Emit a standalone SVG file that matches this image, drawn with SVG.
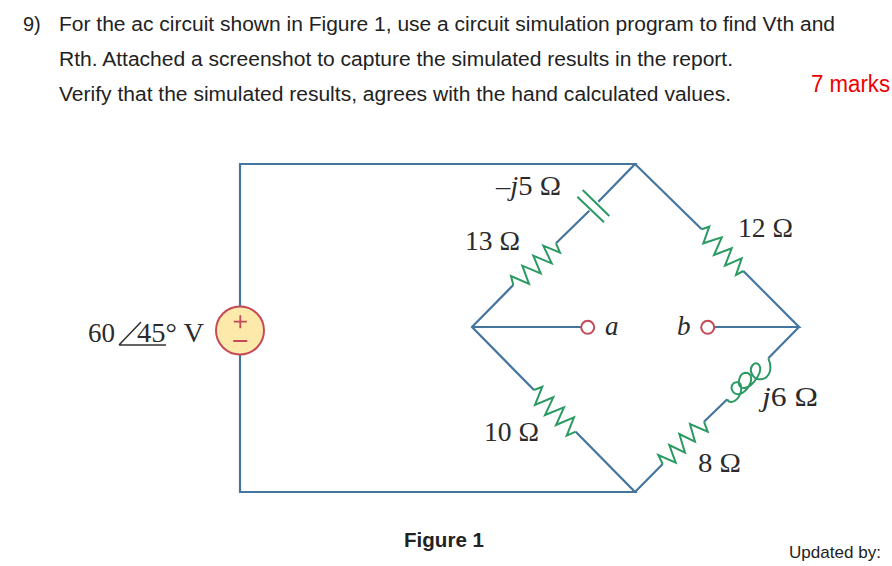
<svg xmlns="http://www.w3.org/2000/svg" width="892" height="566" viewBox="0 0 892 566">
<style>
.q{font-family:"Liberation Sans",Arial,sans-serif;font-size:20px;fill:#222}
.l{font-family:"Liberation Serif","Times New Roman",serif;font-size:27px;fill:#2b2b2b}
.i{font-style:italic}
.w{fill:none;stroke:#44759f;stroke-width:2.2;stroke-linejoin:miter}
.g{fill:none;stroke:#2a9a62;stroke-width:2;stroke-linejoin:miter}
.t{fill:#fff;stroke:#c44a58;stroke-width:2}
</style>
<rect width="892" height="566" fill="#fff"/>
<g id="question">
<text class="q" x="23" y="31">9)</text>
<text class="q" x="59" y="31" textLength="776" lengthAdjust="spacingAndGlyphs">For the ac circuit shown in Figure 1, use a circuit simulation program to find Vth and</text>
<text class="q" x="59" y="66" textLength="674" lengthAdjust="spacingAndGlyphs">Rth. Attached a screenshot to capture the simulated results in the report.</text>
<text class="q" x="59" y="101" textLength="672" lengthAdjust="spacingAndGlyphs">Verify that the simulated results, agrees with the hand calculated values.</text>
<text x="811" y="92" font-family="'Liberation Sans',Arial,sans-serif" font-size="23" fill="#f00000" textLength="79" lengthAdjust="spacingAndGlyphs">7 marks</text>
<text x="404" y="547" font-family="'Liberation Sans',Arial,sans-serif" font-size="20" font-weight="bold" fill="#222" textLength="80" lengthAdjust="spacingAndGlyphs">Figure 1</text>
<text x="789" y="558" font-family="'Liberation Sans',Arial,sans-serif" font-size="17" fill="#222" textLength="92" lengthAdjust="spacingAndGlyphs">Updated by:</text>
</g>
<g id="connectors">
<path class="w" d="M240 306V164H635L598.300 201.700M589.300 210.700L556 243.300"/>
<path class="w" d="M635 164L701.700 229.300"/>
<path class="w" d="M513.300 285L472 327L534 390M575.700 431.700L635 492H240V355"/>
<path class="w" d="M472 327H581M714.500 327H799L743.300 271M799 327L768.300 358.300M727.300 399.300L704 421.700M662.700 464L635 492"/>
</g>
<g id="source">
<circle cx="240" cy="330.500" r="24" fill="#fde9a9" stroke="#c44a58" stroke-width="2"/>
<path d="M233.800 321.700H246.800M240.300 315.200V328.200M233.300 341H247.300" fill="none" stroke="#c44a58" stroke-width="1.800"/>
<text class="l" x="88" y="342">60</text>
<path d="M119 345H166M119 345L141 322" fill="none" stroke="#333" stroke-width="1.600"/>
<text class="l" x="137" y="342" textLength="67" lengthAdjust="spacingAndGlyphs">45° V</text>
</g>
<g id="capacitor">
<path class="g" d="M577.300 196.700L604 222.300M582.700 190L609.300 216"/>
<text class="l" x="496" y="195" textLength="65" lengthAdjust="spacingAndGlyphs"><tspan>–</tspan><tspan class="i">j</tspan><tspan>5 Ω</tspan></text>
</g>
<g id="r13">
<path class="g" d="M513.300 285L511 276L529 284L522.300 265.700L540.700 273.300L533.300 255.700L551.700 263.300L543.300 245.700L560 252.700L556 243.300"/>
<text class="l" x="465" y="250" textLength="55" lengthAdjust="spacingAndGlyphs">13 Ω</text>
</g>
<g id="r12">
<path class="g" d="M701.700 229.300L709.300 226.700L703.300 243.300L721.700 237.300L714 255L731.700 248.300L725 265.700L741.700 258.300L736 275L743.300 271"/>
<text class="l" x="738" y="237" textLength="55" lengthAdjust="spacingAndGlyphs">12 Ω</text>
</g>
<g id="r10">
<path class="g" d="M534 390L542.300 386.700L535 405L553.300 397.300L545 415L564 407.300L556 425L574 417.300L566.700 435.700L575.700 431.700"/>
<text class="l" x="484" y="441" textLength="55" lengthAdjust="spacingAndGlyphs">10 Ω</text>
</g>
<g id="r8">
<path class="g" d="M704 421.700L707.700 431.700L690 424L695 441.700L679.300 434L685 452.700L669.300 445L675.700 462.700L658.300 455L662.700 464"/>
<text class="l" x="698" y="472" textLength="43" lengthAdjust="spacingAndGlyphs">8 Ω</text>
</g>
<g id="inductor">
<path class="g" transform="translate(640 320) scale(.33333)" style="stroke-width:6" d="M385 115C398 145 390 175 362 178C338 180 325 150 338 135C352 120 372 140 352 172C340 192 322 208 306 203C290 197 296 160 316 158C336 158 340 182 322 205C306 226 285 228 277 212C270 198 280 185 292 187C310 190 306 222 290 238C278 250 266 248 262 238"/>
<text class="l" x="762" y="406" textLength="56" lengthAdjust="spacingAndGlyphs"><tspan class="i">j</tspan>6 Ω</text>
</g>
<g id="terminal-a">
<circle class="t" cx="587.700" cy="327.300" r="6.500"/>
<text class="l i" x="605" y="335">a</text>
</g>
<g id="terminal-b">
<circle class="t" cx="707.700" cy="327.300" r="6.500"/>
<text class="l i" x="677" y="335">b</text>
</g>
</svg>
